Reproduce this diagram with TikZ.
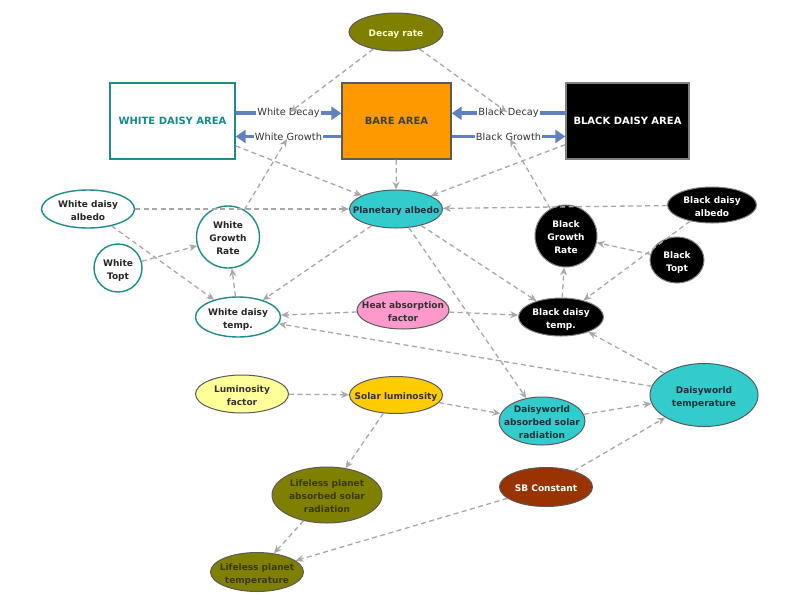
\documentclass[tikz,border=0pt]{standalone}
\usepackage{fontspec}
\setmainfont{DejaVu Sans}
\usetikzlibrary{shapes.geometric,arrows.meta,calc}
\definecolor{tealb}{HTML}{1E8C88}
\definecolor{tealtxt}{HTML}{168A8A}
\definecolor{cyanf}{HTML}{33CCCC}
\definecolor{olivef}{HTML}{808000}
\definecolor{olivetxt}{HTML}{3A3A0A}
\definecolor{paleyel}{HTML}{FFFFCC}
\definecolor{orangef}{HTML}{FF9900}
\definecolor{pinkf}{HTML}{FF99CC}
\definecolor{lyellow}{HTML}{FFFF99}
\definecolor{goldf}{HTML}{FFCC00}
\definecolor{brownf}{HTML}{993300}
\definecolor{flowc}{HTML}{6080C0}
\definecolor{linkc}{HTML}{A8A8A8}
\definecolor{bordc}{HTML}{5A5A5A}
\definecolor{darktxt}{HTML}{1F2F3A}
\newcommand{\mytxt}[1]{\smash{\makebox[0pt]{\raisebox{-4.6pt}{\begin{tabular}{@{}c@{}}#1\end{tabular}}}}}
\tikzset{
  nd/.style={ellipse, inner sep=0pt, line width=1pt, draw=bordc, font=\bfseries\fontsize{9}{13}\selectfont},
  nwhite/.style={nd, draw=tealb, line width=1.4pt, fill=white, text=black!85},
  nblack/.style={nd, draw=gray, fill=black, text=white},
  ncyan/.style={nd, fill=cyanf, text=darktxt},
  nolive/.style={nd, fill=olivef, text=olivetxt},
  sz/.style 2 args={minimum width=#1pt, minimum height=#2pt},
  boxn/.style={rectangle, inner sep=0pt, line width=1.4pt, minimum height=76pt, font=\bfseries\fontsize{10}{12}\selectfont},
  link/.style={draw=linkc, line width=1.3pt, dash pattern=on 5pt off 3.5pt, -{Stealth[length=8pt,width=7pt]}},
  flow/.style={draw=flowc, line width=3.8pt, -{Triangle[length=10pt,width=13pt]}},
  flowlbl/.style={fill=white, inner sep=1pt, text=black!80, font=\fontsize{9.8}{12}\selectfont}
}
\begin{document}
\begin{tikzpicture}[x=1pt,y=-1pt]
\useasboundingbox[fill=white] (0,0) rectangle (800,600);

% stocks
\node[boxn, draw=tealb, fill=white, text=tealtxt, minimum width=125pt] (wda) at (172.5,121) {WHITE DAISY AREA};
\node[boxn, draw=bordc, fill=orangef, text=black!75, minimum width=109pt] (bare) at (396.5,121) {BARE AREA};
\node[boxn, draw=gray, fill=black, text=white, minimum width=123pt] (blackarea) at (627.5,121) {BLACK DAISY AREA};

% flows
\draw[flow] ($(wda.north east)!0.4!(wda.south east)$) -- node[flowlbl] (wdl) {White Decay} ($(bare.north west)!0.4!(bare.south west)$);
\draw[flow] ($(bare.north west)!0.7!(bare.south west)$) -- node[flowlbl] (wgl) {White Growth} ($(wda.north east)!0.7!(wda.south east)$);
\draw[flow] ($(blackarea.north west)!0.4!(blackarea.south west)$) -- node[flowlbl] (bdl) {Black Decay} ($(bare.north east)!0.4!(bare.south east)$);
\draw[flow] ($(bare.north east)!0.7!(bare.south east)$) -- node[flowlbl] (bgl) {Black Growth} ($(blackarea.north west)!0.7!(blackarea.south west)$);

% variables
\node[nolive, text=paleyel, sz={94}{38}] (decay) at (396,32) {\mytxt{Decay rate}};
\node[ncyan, sz={93}{38}] (pa) at (396,209) {\mytxt{Planetary albedo}};
\node[nwhite, sz={93}{38}] (wdalb) at (88,209) {\mytxt{White daisy\\albedo}};
\node[nwhite, sz={63}{62}] (wgr) at (228,237) {\mytxt{White\\Growth\\Rate}};
\node[nwhite, sz={48}{48}] (wtopt) at (118,268) {\mytxt{White\\Topt}};
\node[nwhite, sz={85}{40}] (wdt) at (238,317) {\mytxt{White daisy\\temp.}};
\node[nd, fill=pinkf, text=black!80, sz={92}{38}] (haf) at (403,310) {\mytxt{Heat absorption\\factor}};
\node[nblack, sz={62}{62}] (bgr) at (566,236) {\mytxt{Black\\Growth\\Rate}};
\node[nblack, sz={54}{46}] (btopt) at (677,260) {\mytxt{Black\\Topt}};
\node[nblack, sz={89}{36}] (bdalb) at (712,205) {\mytxt{Black daisy\\albedo}};
\node[nblack, sz={85}{38}] (bdt) at (561,317) {\mytxt{Black daisy\\temp.}};
\node[nd, fill=lyellow, text=black!80, sz={93}{38}] (lf) at (242,394) {\mytxt{Luminosity\\factor}};
\node[nd, fill=goldf, text=black!80, sz={93}{37}] (sl) at (396,395) {\mytxt{Solar luminosity}};
\node[ncyan, sz={86}{48}] (dasr) at (542,421) {\mytxt{Daisyworld\\absorbed solar\\radiation}};
\node[ncyan, sz={108}{63}] (dt) at (704,395) {\mytxt{Daisyworld\\temperature}};
\node[nolive, sz={110}{56}] (lpasr) at (327,495) {\mytxt{Lifeless planet\\absorbed solar\\radiation}};
\node[nd, fill=brownf, text=white, sz={93}{39}] (sb) at (546,487) {\mytxt{SB Constant}};
\node[nolive, sz={93}{39}] (lpt) at (257,572) {\mytxt{Lifeless planet\\temperature}};

% links
\draw[link, shorten >=2pt] (decay) -- (wdl.center);
\draw[link, shorten >=2pt] (decay) -- (bdl.center);
\draw[link, shorten >=3pt] (wgr) -- (wgl.center);
\draw[link, shorten >=3pt] (bgr) -- (bgl.center);
\draw[link] (wda) -- (pa);
\draw[link] (bare) -- (pa);
\draw[link] (blackarea) -- (pa);
\draw[link] (wdalb) -- (pa);
\draw[link] (bdalb) -- (pa);
\draw[link] (wdalb) -- (wdt);
\draw[link] (wtopt) -- (wgr);
\draw[link] (wdt) -- (wgr);
\draw[link] (pa) -- (wdt);
\draw[link] (haf) -- (wdt);
\draw[link] (dt) -- (wdt);
\draw[link] (bdalb) -- (bdt);
\draw[link] (btopt) -- (bgr);
\draw[link] (bdt) -- (bgr);
\draw[link] (pa) -- (bdt);
\draw[link] (haf) -- (bdt);
\draw[link] (dt) -- (bdt);
\draw[link] (pa) -- (dasr);
\draw[link] (lf) -- (sl);
\draw[link] (sl) -- (dasr);
\draw[link] (sl) -- (lpasr);
\draw[link] (dasr) -- (dt);
\draw[link] (sb) -- (dt);
\draw[link] (sb) -- (lpt);
\draw[link] (lpasr) -- (lpt);
\end{tikzpicture}
\end{document}
